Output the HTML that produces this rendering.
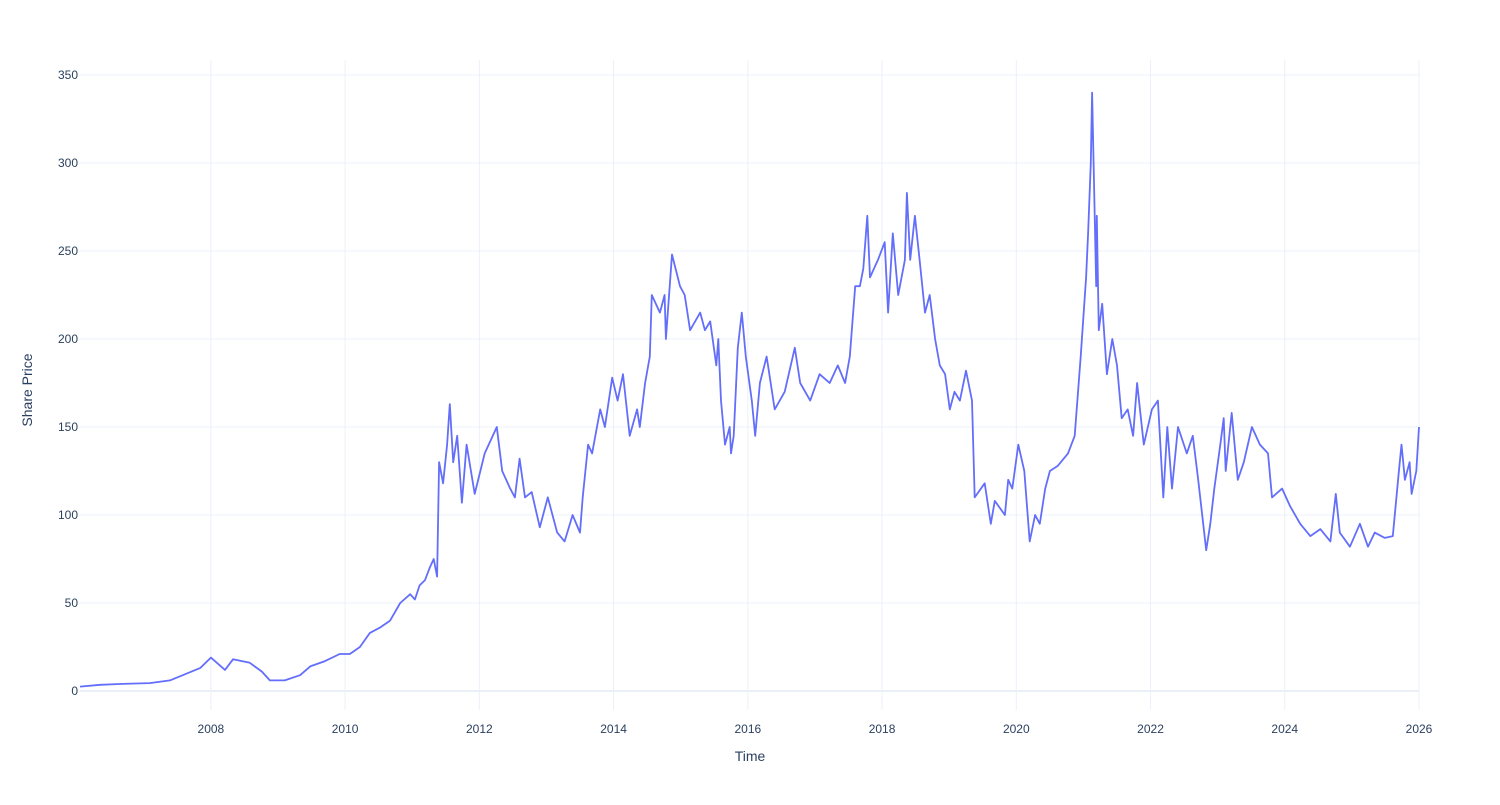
<!DOCTYPE html>
<html><head><meta charset="utf-8"><style>
body{margin:0;background:#fff;font-family:"Liberation Sans",sans-serif;}
svg text{font-family:"Liberation Sans",sans-serif;fill:#2a3f5f;}
</style></head><body>
<svg id="chart" width="1500" height="800">
<g id="grid"></g>
<g id="yticks"></g>
<g id="xticks"></g>
<path id="line" fill="none" stroke="#636efa" stroke-width="1.8" stroke-linejoin="round"></path>
<text x="750" y="761" text-anchor="middle" font-size="14">Time</text>
<text transform="translate(32,390) rotate(-90)" text-anchor="middle" font-size="14">Share Price</text>
</svg>
<script>
const years = [2006.05,2006.35,2006.64,2007.09,2007.39,2007.84,2008.0,2008.21,2008.33,2008.58,2008.76,2008.88,2009.10,2009.33,2009.48,2009.70,2009.92,2010.07,2010.22,2010.37,2010.52,2010.67,2010.82,2010.97,2011.04,2011.11,2011.19,2011.26,2011.32,2011.37,2011.40,2011.46,2011.52,2011.56,2011.61,2011.67,2011.74,2011.81,2011.93,2012.08,2012.26,2012.34,2012.46,2012.53,2012.60,2012.68,2012.78,2012.90,2013.02,2013.16,2013.27,2013.39,2013.50,2013.54,2013.62,2013.68,2013.80,2013.87,2013.98,2014.06,2014.14,2014.24,2014.35,2014.39,2014.47,2014.54,2014.57,2014.69,2014.76,2014.78,2014.87,2014.99,2015.06,2015.14,2015.29,2015.36,2015.44,2015.53,2015.56,2015.60,2015.66,2015.73,2015.75,2015.79,2015.85,2015.91,2015.97,2016.06,2016.11,2016.18,2016.28,2016.30,2016.40,2016.55,2016.70,2016.78,2016.93,2017.07,2017.22,2017.34,2017.45,2017.52,2017.60,2017.67,2017.72,2017.78,2017.82,2017.94,2018.04,2018.09,2018.16,2018.24,2018.34,2018.37,2018.42,2018.49,2018.56,2018.64,2018.71,2018.79,2018.86,2018.94,2019.01,2019.08,2019.16,2019.25,2019.34,2019.38,2019.53,2019.62,2019.68,2019.83,2019.88,2019.94,2020.03,2020.12,2020.20,2020.28,2020.35,2020.43,2020.50,2020.62,2020.77,2020.87,2020.96,2021.04,2021.07,2021.11,2021.13,2021.19,2021.20,2021.23,2021.28,2021.35,2021.43,2021.50,2021.57,2021.66,2021.74,2021.80,2021.90,2022.02,2022.11,2022.19,2022.25,2022.32,2022.41,2022.54,2022.63,2022.71,2022.77,2022.83,2022.89,2022.95,2023.04,2023.09,2023.12,2023.21,2023.30,2023.39,2023.51,2023.63,2023.75,2023.81,2023.96,2024.08,2024.23,2024.38,2024.53,2024.68,2024.76,2024.82,2024.97,2025.12,2025.24,2025.34,2025.49,2025.61,2025.70,2025.74,2025.79,2025.86,2025.89,2025.96,2026.0];
const prices = [2.5,3.5,4,4.5,6,13,19,12,18,16,11,6,6,9,14,17,21,21,25,33,36,40,50,55,52,60,63,70,75,65,130,118,140,163,130,145,107,140,112,135,150,125,115,110,132,110,113,93,110,90,85,100,90,110,140,135,160,150,178,165,180,145,160,150,175,190,225,215,225,200,248,230,225,205,215,205,210,185,200,165,140,150,135,145,195,215,190,165,145,175,190,185,160,170,195,175,165,180,175,185,175,190,230,230,240,270,235,245,255,215,260,225,245,283,245,270,245,215,225,200,185,180,160,170,165,182,165,110,118,95,108,100,120,115,140,125,85,100,95,115,125,128,135,145,190,235,260,300,340,230,270,205,220,180,200,185,155,160,145,175,140,160,165,110,150,115,150,135,145,120,100,80,95,115,140,155,125,158,120,130,150,140,135,110,115,105,95,88,92,85,112,90,82,95,82,90,87,88,125,140,120,130,112,125,150];
const yTickVals = [0,50,100,150,200,250,300,350];
const xTickVals = [2008,2010,2012,2014,2016,2018,2020,2022,2024,2026];

const X0=80,X1=1419,Y0=691,YPER=(691-75)/350;
const xMin=2006.05,xMax=2026.0;
const xs=v=>X0+(v-xMin)/(xMax-xMin)*(X1-X0);
const ys=v=>Y0-v*YPER;
const NS='http://www.w3.org/2000/svg';
const grid=document.getElementById('grid'),yt=document.getElementById('yticks'),xt=document.getElementById('xticks');
yTickVals.forEach(v=>{
  const l=document.createElementNS(NS,'line');
  
  
  l.setAttribute('x1',X0);l.setAttribute('x2',X1);l.setAttribute('y1',ys(v));l.setAttribute('y2',ys(v));
  l.setAttribute('stroke',v===0?'#EBF0F8':'#EBF0F8');l.setAttribute('stroke-width',v===0?2:1);
  grid.appendChild(l);
  const t=document.createElementNS(NS,'text');
  
  
  t.setAttribute('x',78);t.setAttribute('y',ys(v)+4);t.setAttribute('text-anchor','end');t.setAttribute('font-size','12');
  t.textContent=v;yt.appendChild(t);
});
xTickVals.forEach(v=>{
  const l=document.createElementNS(NS,'line');
  
  
  l.setAttribute('x1',xs(v));l.setAttribute('x2',xs(v));l.setAttribute('y1',60);l.setAttribute('y2',710);
  l.setAttribute('stroke','#EBF0F8');
  grid.appendChild(l);
  const t=document.createElementNS(NS,'text');
  
  
  t.setAttribute('x',xs(v));t.setAttribute('y',733);t.setAttribute('text-anchor','middle');t.setAttribute('font-size','12');
  t.textContent=v;xt.appendChild(t);
});
let d='';
years.forEach((y,i)=>{d+=(i?'L':'M')+xs(y).toFixed(1)+','+ys(prices[i]).toFixed(1);});
document.getElementById('line').setAttribute('d',d);
</script>
</body></html>
